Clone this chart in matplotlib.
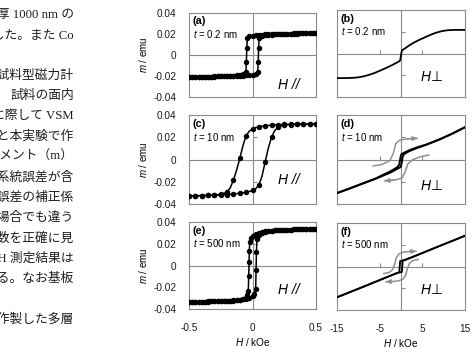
import matplotlib
matplotlib.use("Agg")
import matplotlib.pyplot as plt
from matplotlib.markers import TICKUP, TICKRIGHT

plt.rcParams["font.family"] = ["Liberation Sans", "DejaVu Sans"]
plt.rcParams["mathtext.fontset"] = "custom"
plt.rcParams["mathtext.rm"] = "Liberation Sans"
plt.rcParams["mathtext.it"] = "Liberation Sans:italic"

# ---- in-plane loops, H in kOe, m in memu ----
a_up_H = [-0.5, -0.475, -0.45, -0.425, -0.4, -0.375, -0.35, -0.325, -0.3, -0.275,
          -0.25, -0.225, -0.2, -0.175, -0.15, -0.125, -0.1, -0.075, -0.05, -0.025,
          0.0, 0.025, 0.04, 0.045, 0.048, 0.052, 0.075, 0.1, 0.125, 0.15, 0.175,
          0.2, 0.225, 0.25, 0.275, 0.3, 0.325, 0.35, 0.375, 0.4, 0.425, 0.45,
          0.475, 0.5]
a_up_m = [-21.0, -20.95, -20.9, -20.85, -20.8, -20.7, -20.65, -20.6, -20.5, -20.4,
          -20.3, -20.2, -20.1, -20.0, -19.9, -19.8, -19.7, -19.6, -19.5, -19.3,
          -19.0, -18.3, -16.5, -7.0, 6.5, 16.0, 18.4, 18.9, 19.2, 19.4, 19.6,
          19.7, 19.85, 20.0, 20.1, 20.2, 20.3, 20.4, 20.5, 20.55, 20.65, 20.7,
          20.8, 20.85]
a_down_H = [0.5, 0.475, 0.45, 0.425, 0.4, 0.375, 0.35, 0.325, 0.3, 0.275,
            0.25, 0.225, 0.2, 0.175, 0.15, 0.125, 0.1, 0.075, 0.05, 0.025,
            0.0, -0.025, -0.04, -0.045, -0.048, -0.052, -0.075, -0.1, -0.125,
            -0.15, -0.175, -0.2, -0.225, -0.25, -0.275, -0.3, -0.325, -0.35,
            -0.375, -0.4, -0.425, -0.45, -0.475, -0.5]
a_down_m = [20.9, 20.85, 20.8, 20.75, 20.7, 20.6, 20.55, 20.5, 20.4, 20.3,
            20.2, 20.1, 20.0, 19.9, 19.8, 19.7, 19.6, 19.4, 19.2, 18.9,
            18.5, 17.9, 16.2, 7.0, -6.5, -15.8, -18.2, -18.9, -19.3,
            -19.6, -19.8, -19.95, -20.1, -20.2, -20.3, -20.4, -20.5, -20.6,
            -20.7, -20.75, -20.8, -20.9, -20.95, -21.0]

c_H = [-0.5, -0.475, -0.45, -0.425, -0.4, -0.375, -0.35, -0.325, -0.3, -0.275,
       -0.25, -0.225, -0.2, -0.175, -0.15, -0.125, -0.1, -0.075, -0.05, -0.025,
       0.0, 0.025, 0.05, 0.075, 0.1, 0.125, 0.15, 0.175, 0.2, 0.225,
       0.25, 0.275, 0.3, 0.325, 0.35, 0.375, 0.4, 0.425, 0.45, 0.475, 0.5]
c_up_m = [-32.8, -32.7, -32.7, -32.6, -32.5, -32.4, -32.3, -32.2, -32.1, -32.0,
          -31.9, -31.7, -31.5, -31.3, -31.0, -30.7, -30.3, -29.9, -29.4, -28.7,
          -27.8, -26.3, -23.0, -15.0, -2.0, 10.5, 20.0, 26.0, 29.0, 30.2,
          30.8, 31.2, 31.4, 31.6, 31.7, 31.8, 31.9, 32.0, 32.0, 32.1, 32.1]
# descending sweep, listed from +0.5 down to -0.5
c_down_m = [32.0, 32.0, 31.95, 31.9, 31.9, 31.85, 31.8, 31.75, 31.7, 31.6,
            31.5, 31.4, 31.3, 31.1, 30.9, 30.6, 30.3, 29.9, 29.4, 28.7,
            27.6, 25.5, 21.5, 12.5, 1.0, -9.5, -18.5, -25.5, -29.0, -30.5,
            -31.2, -31.6, -31.9, -32.1, -32.2, -32.3, -32.4, -32.5, -32.5, -32.6, -32.6]

e_up_H = [-0.5, -0.475, -0.45, -0.425, -0.4, -0.375, -0.35, -0.325, -0.3, -0.275,
          -0.25, -0.225, -0.2, -0.175, -0.15, -0.125, -0.1, -0.075, -0.05, -0.025,
          0.0, 0.015, 0.025, 0.028, 0.031, 0.035, 0.05, 0.075, 0.1, 0.125,
          0.15, 0.175, 0.2, 0.225, 0.25, 0.275, 0.3, 0.325, 0.35, 0.375,
          0.4, 0.425, 0.45, 0.475, 0.5]
e_up_m = [-33.5, -33.5, -33.4, -33.4, -33.3, -33.2, -33.1, -33.0, -32.9, -32.8,
          -32.7, -32.6, -32.5, -32.3, -32.1, -31.9, -31.6, -31.2, -30.6, -29.8,
          -28.5, -26.5, -21.5, -4.0, 12.0, 24.5, 28.5, 30.2, 31.0, 31.5,
          31.9, 32.2, 32.5, 32.7, 32.9, 33.0, 33.1, 33.2, 33.3, 33.4,
          33.5, 33.6, 33.6, 33.7, 33.7]
e_down_H = [0.5, 0.475, 0.45, 0.425, 0.4, 0.375, 0.35, 0.325, 0.3, 0.275,
            0.25, 0.225, 0.2, 0.175, 0.15, 0.125, 0.1, 0.075, 0.05, 0.025,
            0.0, -0.015, -0.022, -0.025, -0.027, -0.03, -0.033, -0.04,
            -0.05, -0.075, -0.1, -0.125, -0.15, -0.175, -0.2, -0.225, -0.25,
            -0.275, -0.3, -0.325, -0.35, -0.375, -0.4, -0.425, -0.45, -0.475, -0.5]
e_down_m = [33.8, 33.7, 33.7, 33.6, 33.5, 33.4, 33.3, 33.2, 33.1, 33.0,
            32.9, 32.7, 32.5, 32.3, 32.0, 31.7, 31.3, 30.7, 29.9, 28.8,
            27.0, 25.0, 21.5, 13.0, 3.0, -10.0, -23.0, -27.5,
            -29.5, -30.8, -31.5, -31.9, -32.2, -32.4, -32.6, -32.7, -32.8,
            -32.9, -33.0, -33.1, -33.2, -33.3, -33.3, -33.4, -33.4, -33.5, -33.5]

# ---- perpendicular curves, H in kOe, m in memu ----
b_H = [-15, -13, -12, -11, -10, -9, -8, -7, -6, -5, -4, -3, -2, -1, -0.5, -0.2,
       0, 0.2, 0.5, 1, 2, 3, 4, 5, 6, 7, 8, 9, 10, 11, 12, 13, 15]
b_m = [-22.6, -22.6, -22.5, -22.3, -21.9, -21.2, -20.2, -19.0, -17.6, -15.9, -14.2,
       -12.4, -10.5, -8.4, -7.3, -6.4, -1.5, 2.6, 3.6, 4.9, 7.6, 10.0, 12.0, 13.8,
       15.6, 17.3, 18.8, 20.0, 20.9, 21.4, 21.6, 21.7, 21.7]

d_up_H = [-15, -12, -9, -6, -4, -3, -2, -1, -0.5, -0.2, 0, 0.2, 0.4, 0.7, 1,
          2, 3, 4, 6, 9, 12, 15]
d_up_m = [-30.2, -26.0, -21.6, -17.4, -14.2, -12.6, -10.8, -8.6, -7.6, -7.0, -6.2,
          -2.0, 2.6, 4.6, 5.6, 7.6, 9.2, 10.6, 13.4, 18.0, 23.2, 29.0]
d_down_H = [15, 12, 9, 6, 4, 3, 2, 1, 0.5, 0.2, 0, -0.2, -0.4, -0.7, -1,
            -2, -3, -4, -6, -9, -12, -15]
d_down_m = [29.0, 23.2, 18.0, 13.5, 11.2, 9.9, 8.4, 6.6, 5.6, 5.0, 4.2,
            0.0, -4.4, -6.2, -7.2, -9.6, -11.6, -13.4, -17.2, -21.6, -26.0, -30.2]

f_up_H = [-15, -12, -9, -6, -3, -1, -0.5, 0.2, 0.4, 1, 3, 6, 9, 12, 15]
f_up_m = [-28.3, -23.6, -18.9, -14.1, -9.3, -6.2, -5.6, -5.0, 5.2, 6.0, 9.2,
          14.0, 18.8, 23.5, 28.3]
f_down_H = [15, 12, 9, 6, 3, 1, 0.5, -0.2, -0.4, -1, -3, -6, -9, -12, -15]
f_down_m = [28.3, 23.5, 18.8, 14.0, 9.2, 6.3, 5.6, 5.0, -5.2, -6.1, -9.3,
            -14.1, -18.9, -23.6, -28.3]

# sweep-direction arrows drawn over (d) and (f), in kOe / emu
d_arrow_up_H = [-6.5, -4.5, -2.6, -1.8, -1.2, -0.2, 1.5, 3.8]
d_arrow_up_m = [-0.0058, -0.0045, -0.0010, 0.0056, 0.0146, 0.0175, 0.0186, 0.0190]
d_arrow_dn_H = [6.5, 4.5, 2.6, 1.6, 0.9, 0.2, -1.5, -3.8]
d_arrow_dn_m = [0.0040, 0.0025, -0.0005, -0.0040, -0.0120, -0.0168, -0.0185, -0.0192]
f_arrow_up_H = [-4.0, -2.8, -2.0, -1.5, -1.1, -0.5, 0.5, 2.0, 3.5]
f_arrow_up_m = [-0.0065, -0.0055, -0.0030, 0.0020, 0.0080, 0.0115, 0.0132, 0.0138, 0.0140]
f_arrow_dn_H = [4.0, 2.8, 2.0, 1.5, 1.1, 0.5, -0.5, -2.0, -3.5]
f_arrow_dn_m = [0.0065, 0.0055, 0.0030, -0.0020, -0.0080, -0.0115, -0.0132, -0.0138, -0.0140]

panel_tags = ["(a)", "(b)", "(c)", "(d)", "(e)", "(f)"]
thickness = ["0.2 nm", "0.2 nm", "10 nm", "10 nm", "500 nm", "500 nm"]
y_ticks = [-0.04, -0.02, 0, 0.02, 0.04]
y_tick_text = ["-0.04", "-0.02", "0", "0.02", "0.04"]

# running text of the page beside the figure
body_lines = ["膜厚 1000 nm の", "成した。また Co", "", "振動試料型磁力計",
              "試料の面内", "に際して VSM", "ると本実験で作", "気モーメント（m）",
              "る系統誤差が含", "の誤差の補正係", "る場合でも違う", "係数を正確に見",
              "M-H 測定結果は", "ある。なお基板", "", "で作製した多層"]

GREY = "#8a8a8a"
W, H = 474, 349


def memu(vals):
    return [v / 1000 for v in vals]


def box(x0, top, x1, bottom):
    return [x0 / W, 1 - bottom / H, (x1 - x0) / W, (bottom - top) / H]


fig = plt.figure(figsize=(W / 100, H / 100), dpi=100)

for i, s in enumerate(body_lines):
    if s:
        fig.text(74 / W, 1 - (15 + 20.3 * i) / H, s, ha="right", va="center",
                 fontsize=9.2, color="#1e1e1e",
                 family=["Liberation Serif", "Noto Sans CJK JP"])

rows = [(13, 97, 10, 97), (115, 204, 115, 204), (222, 309, 223, 310)]
axes = []
for lt, lb, rt, rb in rows:
    axes.append(fig.add_axes(box(189, lt, 316, lb)))
    axes.append(fig.add_axes(box(337, rt, 465, rb)))

for k, ax in enumerate(axes):
    left = k % 2 == 0
    ax.set_ylim(-0.04, 0.04)
    ax.set_xlim(-0.5, 0.5) if left else ax.set_xlim(-15, 15)
    for sp in ax.spines.values():
        sp.set_color(GREY)
        sp.set_linewidth(0.8)
    ax.axhline(0, color=GREY, lw=0.8, zorder=1)
    ax.axvline(0, color=GREY, lw=0.8, zorder=1)
    ax.plot([0, 0], [-0.02, 0.02], ls="none", marker=TICKRIGHT, ms=3,
            mew=0.8, color=GREY, zorder=1)
    if not left:
        ax.plot([-5, 5], [0, 0], ls="none", marker=TICKUP, ms=3,
                mew=0.8, color=GREY, zorder=1)
    ax.tick_params(length=0, labelsize=7.2, colors="#1a1a1a")
    if left:
        ax.set_yticks(y_ticks)
        ax.set_yticklabels(y_tick_text)
        ax.tick_params(axis="y", pad=9)
        ax.set_ylabel("$m$ / emu", fontsize=7, labelpad=3)
    else:
        ax.set_yticks([])
    if k >= 4:
        if left:
            ax.set_xticks([-0.5, 0, 0.5])
            ax.set_xticklabels(["-0.5", "0", "0.5"])
        else:
            ax.set_xticks([-15, -5, 5, 15])
            ax.set_xticklabels(["-15", "-5", "5", "15"])
        ax.tick_params(axis="x", pad=10)
        ax.set_xlabel("$H$ / kOe", fontsize=7.2, labelpad=2)
    else:
        ax.set_xticks([])

    ax.text(0.025, 0.90, panel_tags[k], transform=ax.transAxes, fontsize=7.8,
            fontweight="bold", va="center")
    ax.text(0.03, 0.755, "$t$ = " + thickness[k], transform=ax.transAxes,
            fontsize=7, va="center")

# in-plane loops
loop_style = dict(color="black", lw=1.1, marker="o", ms=2.9, zorder=3)
ax_a, ax_b, ax_c, ax_d, ax_e, ax_f = axes
ax_a.plot(a_up_H, memu(a_up_m), **loop_style)
ax_a.plot(a_down_H, memu(a_down_m), **loop_style)
ax_c.plot(c_H, memu(c_up_m), markevery=2, **loop_style)
ax_c.plot(c_H[::-1], memu(c_down_m), markevery=2, **loop_style)
ax_e.plot(e_up_H, memu(e_up_m), **loop_style)
ax_e.plot(e_down_H, memu(e_down_m), **loop_style)

# perpendicular curves
ax_b.plot(b_H, memu(b_m), color="black", lw=1.3, zorder=3)
ax_d.plot(d_up_H, memu(d_up_m), color="black", lw=1.4, zorder=3)
ax_d.plot(d_down_H, memu(d_down_m), color="black", lw=1.4, zorder=3)
ax_f.plot(f_up_H, memu(f_up_m), color="black", lw=1.3, zorder=3)
ax_f.plot(f_down_H, memu(f_down_m), color="black", lw=1.3, zorder=3)

arrow_grey = "#8f8f8f"
for ax, hx, my in [(ax_d, d_arrow_up_H, d_arrow_up_m), (ax_d, d_arrow_dn_H, d_arrow_dn_m),
                   (ax_f, f_arrow_up_H, f_arrow_up_m), (ax_f, f_arrow_dn_H, f_arrow_dn_m)]:
    ax.plot(hx, my, color=arrow_grey, lw=1.1, zorder=2)
    ax.annotate("", xy=(hx[-1], my[-1]), xytext=(hx[-2], my[-2]),
                arrowprops=dict(arrowstyle="-|>", color=arrow_grey, lw=1.1,
                                mutation_scale=6, shrinkA=0, shrinkB=0), zorder=2)

# field direction labels
for ax, yy in [(ax_a, 0.145), (ax_c, 0.27), (ax_e, 0.22)]:
    ax.text(0.70, yy, "H //", transform=ax.transAxes, fontsize=10,
            style="italic", va="center")
for ax, yy in [(ax_b, 0.23), (ax_d, 0.20), (ax_f, 0.23)]:
    ax.text(0.65, yy, "H", transform=ax.transAxes, fontsize=10,
            style="italic", va="center")
    ax.annotate("⊥", xy=(0.65, yy), xycoords="axes fraction", xytext=(7.5, 0),
                textcoords="offset points", fontsize=10, va="center")

fig.savefig("out.png", dpi=100)
